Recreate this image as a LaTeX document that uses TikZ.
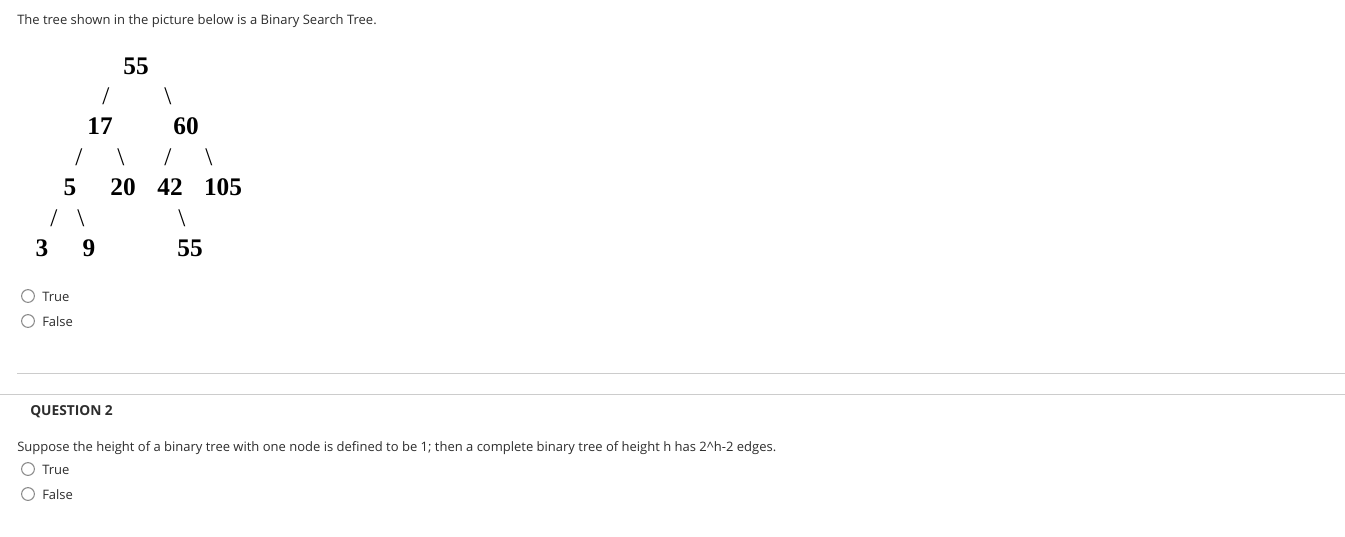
\documentclass[tikz,border=0pt]{standalone}
\usepackage{fontspec}
\setmainfont{Open Sans}
\newfontfamily\treefont{Liberation Serif}
\definecolor{txt}{HTML}{2D2D2D}
\definecolor{rule}{HTML}{CCCCCC}
\definecolor{radiogray}{HTML}{8A8A8A}
\begin{document}
\begin{tikzpicture}[x=0.75pt,y=-0.75pt,
  ui/.style={anchor=base west,inner sep=0pt,text=txt,font=\fontsize{9.75}{11}\selectfont},
  qhead/.style={anchor=base west,inner sep=0pt,text=txt,font=\fontsize{10.3}{12}\selectfont\bfseries},
  num/.style={anchor=center,inner sep=0pt,text=black,font=\fontsize{19}{20}\selectfont\treefont\bfseries},
  sl/.style={anchor=center,inner sep=0pt,text=black,font=\fontsize{19}{20}\selectfont\treefont},
  radio/.style={circle,draw=radiogray,line width=0.8pt,minimum size=9.6pt,inner sep=0pt},
  hrule/.style={draw=rule,line width=0.9pt}]
\useasboundingbox (0,0) rectangle (1345,536);
\fill[white] (0,0) rectangle (1345,536);

% question 1
\node[ui] (q1) at (17,24.5) {The tree shown in the picture below is a Binary Search Tree.};

% tree
\node[num] (n55) at (136,66) {55};
\node[sl] (s1) at (106,96) {/};
\node[sl] (s2) at (168,96) {\textbackslash};
\node[num] (n17) at (100,126) {17};
\node[num] (n60) at (186,126) {60};
\node[sl] (s3) at (79,157) {/};
\node[sl] (s4) at (121,157) {\textbackslash};
\node[sl] (s5) at (168,157) {/};
\node[sl] (s6) at (209,157) {\textbackslash};
\node[num] (n5) at (70,187) {5};
\node[num] (n20) at (123,187) {20};
\node[num] (n42) at (170,187) {42};
\node[num] (n105) at (223,187) {105};
\node[sl] (s7) at (54,218) {/};
\node[sl] (s8) at (81,218) {\textbackslash};
\node[sl] (s9) at (182,218) {\textbackslash};
\node[num] (n3) at (42,248) {3};
\node[num] (n9) at (89,248) {9};
\node[num] (n55b) at (190,248) {55};

% answers 1
\node[radio] (r1) at (28,296) {};
\node[ui] (t1) at (42,301) {True};
\node[radio] (r2) at (28,321) {};
\node[ui] (f1) at (42,326.5) {False};

% separators
\coordinate (a1) at (17,373.5);
\coordinate (a2) at (1345,373.5);
\coordinate (b1) at (0,394.5);
\coordinate (b2) at (1345,394.5);
\draw[hrule] (a1) -- (a2);
\draw[hrule] (b1) -- (b2);

% question 2
\node[qhead] (qh) at (30,415.5) {QUESTION 2};
\node[ui] (q2) at (17,451.5) {Suppose the height of a binary tree with one node is defined to be 1; then a complete binary tree of height h has 2\^{}h-2 edges.};
\node[radio] (r3) at (28,469) {};
\node[ui] (t2) at (42,474) {True};
\node[radio] (r4) at (28,494) {};
\node[ui] (f2) at (42,499.5) {False};
\end{tikzpicture}
\end{document}
